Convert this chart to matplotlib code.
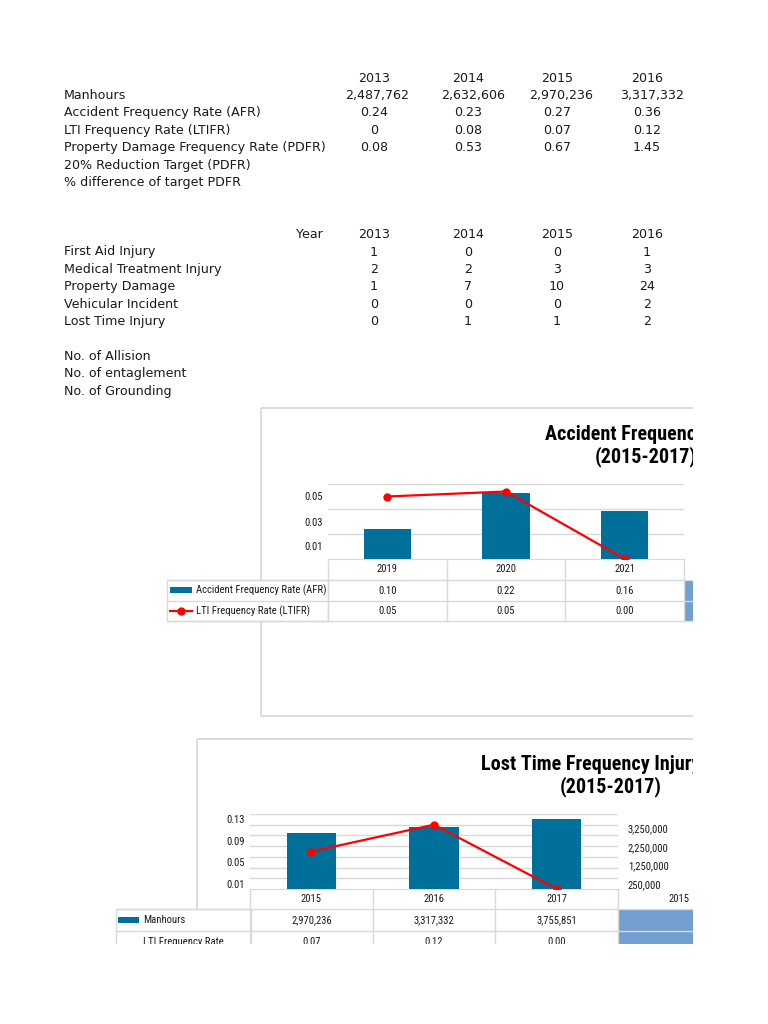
import matplotlib
matplotlib.use("Agg")
import matplotlib.pyplot as plt
from matplotlib.patches import Rectangle
from matplotlib.font_manager import FontProperties

# --- datos de la hoja ---
years = ["2013", "2014", "2015", "2016"]
manhours = [2487762, 2632606, 2970236, 3317332]
afr = [0.24, 0.23, 0.27, 0.36]
ltifr = [0, 0.08, 0.07, 0.12]
pdfr = [0.08, 0.53, 0.67, 1.45]

first_aid = [1, 0, 0, 1]
medical = [2, 2, 3, 3]
property_damage = [1, 7, 10, 24]
vehicular = [0, 0, 0, 2]
lost_time = [0, 1, 1, 2]

# grafico 1: AFR (barras) y LTIFR (linea)
c1_years = ["2019", "2020", "2021"]
c1_afr = [0.10, 0.22, 0.16]
c1_ltifr = [0.050, 0.054, 0.0]

# grafico 2: horas-hombre (barras) y LTIFR (linea)
c2_years = ["2015", "2016", "2017"]
c2_manhours = [2970236, 3317332, 3755851]
c2_ltifr = [0.07, 0.12, 0.0]
c2_extra_year = "2015"

# --- estilos ---
W, H = 768, 1024
BAR = "#00709a"
LINE = "#ff0000"
GRID = "#d9d9d9"
CELL = "#729fcf"
TXT = "#1a1a1a"
SMALL = FontProperties(family="Roboto Condensed", size=7.7)
TITLE = FontProperties(family="Roboto Condensed", weight="bold", size=14.5)

fig = plt.figure(figsize=(W / 100, H / 100), dpi=100)
fig.patch.set_facecolor("white")

# capa de pagina en pixeles (origen arriba a la izquierda)
pg = fig.add_axes([0, 0, 1, 1])
pg.set_xlim(0, W)
pg.set_ylim(H, 0)
pg.axis("off")


def px_axes(left, top, right, bottom):
    return fig.add_axes([left / W, 1 - bottom / H, (right - left) / W, (bottom - top) / H])


# --- texto de la hoja ---
sheet = dict(family="DejaVu Sans", fontsize=9.1, color=TXT, va="center")
col_x = [374, 468, 557, 647]
mh_x = [377, 473, 561, 652]


def row_y(i):
    return 78 + 17.4 * i


for x, yr in zip(col_x, years):
    pg.text(x, row_y(0), yr, ha="center", **sheet)
labels_top = ["Manhours", "Accident Frequency Rate (AFR)", "LTI Frequency Rate (LTIFR)",
              "Property Damage Frequency Rate (PDFR)", "20% Reduction Target (PDFR)",
              "% difference of target PDFR"]
for i, lab in enumerate(labels_top):
    pg.text(64, row_y(i + 1), lab, ha="left", **sheet)
for x, v in zip(mh_x, manhours):
    pg.text(x, row_y(1), f"{v:,}", ha="center", **sheet)
for r, serie in enumerate([afr, ltifr, pdfr]):
    for x, v in zip(col_x, serie):
        pg.text(x, row_y(r + 2), f"{v:g}", ha="center", **sheet)

pg.text(323, row_y(9), "Year", ha="right", **sheet)
for x, yr in zip(col_x, years):
    pg.text(x, row_y(9), yr, ha="center", **sheet)
incidents = [("First Aid Injury", first_aid), ("Medical Treatment Injury", medical),
             ("Property Damage", property_damage), ("Vehicular Incident", vehicular),
             ("Lost Time Injury", lost_time)]
for i, (lab, serie) in enumerate(incidents):
    pg.text(64, row_y(10 + i), lab, ha="left", **sheet)
    for x, v in zip(col_x, serie):
        pg.text(x, row_y(10 + i), str(v), ha="center", **sheet)
for i, lab in enumerate(["No. of Allision", "No. of entaglement", "No. of Grounding"]):
    pg.text(64, row_y(16 + i), lab, ha="left", **sheet)


def chart(plot, cats, bar_vals, line_vals, left_lim, left_ticks, grid_vals,
          right_lim, right_ticks, right_fmt):
    left, top, right, bottom = plot
    n = len(cats)
    ax_g = px_axes(left, top, right, bottom)
    ax_g.patch.set_visible(False)
    ax_g.set_xlim(-0.5, n - 0.5)
    ax_g.set_ylim(*left_lim)
    ax_g.set_xticks([])
    ax_g.set_yticks(left_ticks)
    ax_g.set_yticklabels([f"{t:.2f}" for t in left_ticks], fontproperties=SMALL, color=TXT)
    ax_g.set_yticks(grid_vals, minor=True)
    ax_g.grid(True, which="minor", axis="y", color=GRID, lw=1)
    ax_g.tick_params(axis="y", which="both", length=0, pad=3.5)
    for s in ax_g.spines.values():
        s.set_visible(False)
    ax_g.spines["bottom"].set_visible(True)
    ax_g.spines["bottom"].set_color(GRID)

    ax_b = ax_g.twinx()
    ax_b.patch.set_visible(False)
    ax_b.bar(range(n), bar_vals, width=0.4, color=BAR)
    ax_b.set_ylim(*right_lim)
    ax_b.set_yticks(right_ticks)
    ax_b.set_yticklabels([right_fmt(t) for t in right_ticks], fontproperties=SMALL, color=TXT)
    ax_b.tick_params(axis="y", length=0, pad=7)
    for s in ax_b.spines.values():
        s.set_visible(False)

    ax_l = ax_g.twinx()
    ax_l.patch.set_visible(False)
    ax_l.set_ylim(*left_lim)
    ax_l.plot(range(n), line_vals, color=LINE, lw=1.6, marker="o", ms=5)
    ax_l.axis("off")
    return (right - left) / n


def title(cx, y1, text):
    tstyle = dict(ha="center", va="baseline", fontproperties=TITLE, color="black")
    pg.text(cx, y1, text, **tstyle)
    pg.text(cx, y1 + 22, "(2015-2017)", **tstyle)


cell = dict(ha="center", va="center", fontproperties=SMALL, color=TXT)

# --- grafico 1 ---
pg.add_patch(Rectangle((261, 408), 700, 308, fill=False, ec=GRID, lw=1.3))
title(646, 440, "Accident Frequency Rate")
cw = chart((328, 484, 684, 559), c1_years, c1_afr, c1_ltifr, (0, 0.06),
           [0.01, 0.03, 0.05], [0.02, 0.04, 0.06], (0, 0.25),
           [0.03, 0.08, 0.13, 0.18, 0.23], lambda t: f"{t:.2f}")
edges = [328 + i * cw for i in range(5)]
pg.add_patch(Rectangle((167, 580), 328 - 167, 41, fc="white", ec=GRID, lw=1, zorder=3))
pg.add_patch(Rectangle((edges[3], 581), 60, 40, fc=CELL, ec="none", zorder=3))
for y in (580, 600.5, 621):
    pg.plot([167, 760], [y, y], color=GRID, lw=1, zorder=4)
for x in edges:
    pg.plot([x, x], [559, 621], color=GRID, lw=1, zorder=4)
for i, yr in enumerate(c1_years):
    cx = (edges[i] + edges[i + 1]) / 2
    pg.text(cx, 569.5, yr, **cell, zorder=5)
    pg.text(cx, 590.5, f"{c1_afr[i]:.2f}", **cell, zorder=5)
    pg.text(cx, 611, f"{c1_ltifr[i]:.2f}", **cell, zorder=5)
pg.add_patch(Rectangle((170, 587), 22, 6, fc=BAR, ec="none", zorder=5))
pg.plot([170, 192], [611, 611], color=LINE, lw=1.6, zorder=5)
pg.plot([181], [611], color=LINE, marker="o", ms=5, zorder=5)
pg.text(196, 590.5, "Accident Frequency Rate (AFR)", ha="left", va="center",
        fontproperties=SMALL, color=TXT, zorder=5)
pg.text(196, 611, "LTI Frequency Rate (LTIFR)", ha="left", va="center",
        fontproperties=SMALL, color=TXT, zorder=5)

# --- grafico 2 ---
pg.add_patch(Rectangle((197, 739), 700, 400, fill=False, ec=GRID, lw=1.3))
title(611, 770, "Lost Time Frequency Injury Rate")
cw = chart((250, 814, 618, 889), c2_years, c2_manhours, c2_ltifr, (0, 0.14),
           [0.01, 0.05, 0.09, 0.13], [0.02, 0.04, 0.06, 0.08, 0.10, 0.12, 0.14],
           (0, 4000000), [250000, 1250000, 2250000, 3250000], lambda t: f"{t:,.0f}")
edges = [250 + i * cw for i in range(5)]
pg.add_patch(Rectangle((116, 909), 251 - 116, 60, fc="white", ec=GRID, lw=1, zorder=3))
pg.add_patch(Rectangle((edges[3], 910), cw, 50, fc=CELL, ec="none", zorder=3))
for y in (909, 931):
    pg.plot([116, 760], [y, y], color=GRID, lw=1, zorder=4)
for x in edges:
    pg.plot([x, x], [889, 960], color=GRID, lw=1, zorder=4)
for i, yr in enumerate(c2_years):
    cx = (edges[i] + edges[i + 1]) / 2
    pg.text(cx, 899, yr, **cell, zorder=5)
    pg.text(cx, 920, f"{c2_manhours[i]:,}", **cell, zorder=5)
    pg.text(cx, 942, f"{c2_ltifr[i]:.2f}", **cell, zorder=5)
pg.text((edges[3] + edges[4]) / 2, 899, c2_extra_year, **cell, zorder=5)
pg.add_patch(Rectangle((118, 917), 21, 6, fc=BAR, ec="none", zorder=5))
pg.text(143, 920, "Manhours", ha="left", va="center", fontproperties=SMALL, color=TXT, zorder=5)
pg.text(143, 937, "LTI Frequency Rate\n(LTIFR)", ha="left", va="top", fontproperties=SMALL,
        color=TXT, zorder=5)

# --- recorte de la pagina (borde derecho e inferior) ---
mask = fig.add_axes([0, 0, 1, 1], zorder=10)
mask.set_xlim(0, W)
mask.set_ylim(H, 0)
mask.axis("off")
mask.add_patch(Rectangle((693, 0), W - 693, H, fc="white", ec="none"))
mask.add_patch(Rectangle((0, 944), W, H - 944, fc="white", ec="none"))

fig.savefig("out.png", dpi=100, facecolor="white")
